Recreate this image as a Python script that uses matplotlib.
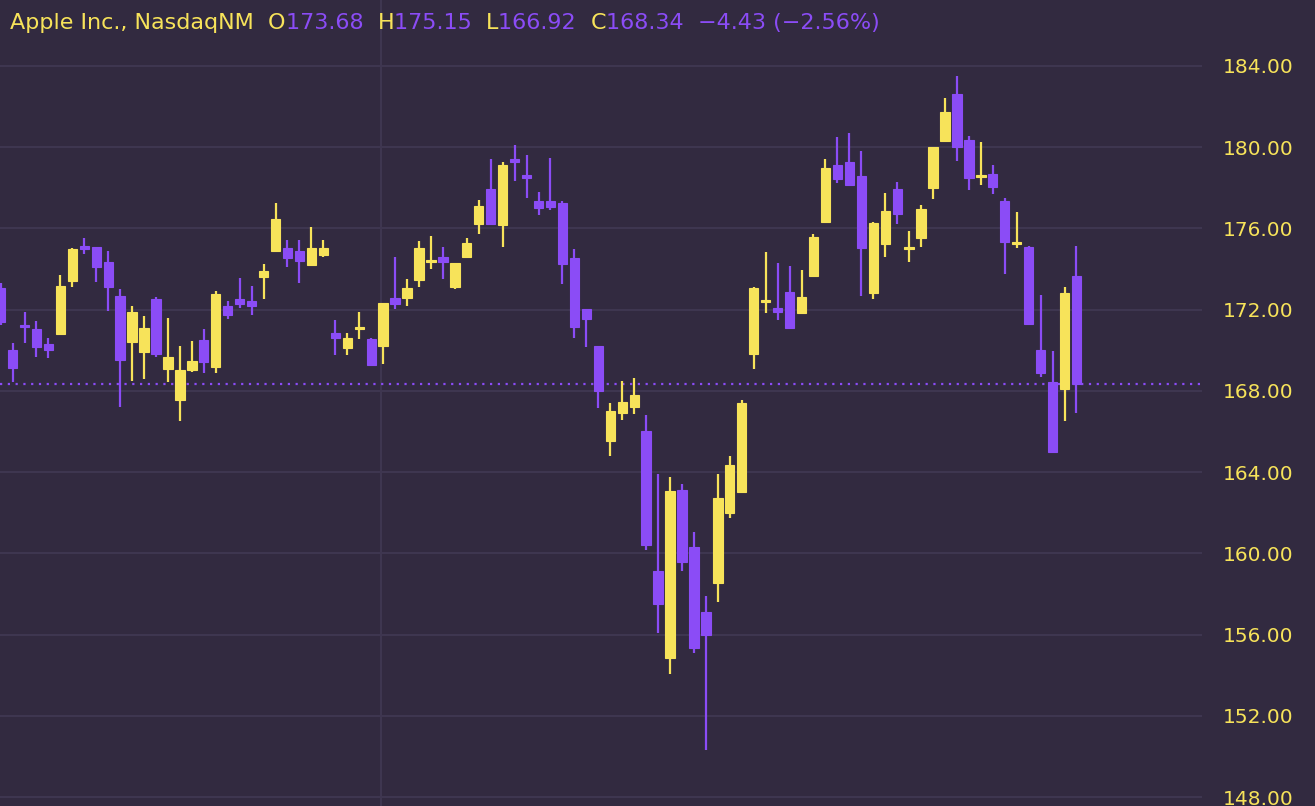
import matplotlib
matplotlib.use("Agg")
import matplotlib.pyplot as plt
import numpy as np

# daily OHLC (oldest first)
opens = [173.07, 170.02, 171.25, 171.05, 170.31, 170.80, 173.41, 175.14, 175.09, 174.35,
         172.67, 170.41, 169.92, 172.53, 169.08, 167.55, 169.03, 170.51, 169.18, 172.18,
         172.53, 172.43, 173.61, 174.89, 175.04, 174.89, 174.20, 174.69, 170.85, 170.11,
         171.05, 170.56, 170.21, 172.58, 172.58, 173.46, 174.35, 174.60, 173.12, 174.60,
         176.22, 177.94, 176.17, 179.42, 178.63, 177.35, 177.35, 177.25, 174.55, 172.03,
         170.21, 165.54, 166.91, 167.21, 166.03, 159.13, 154.85, 163.12, 160.32, 157.11,
         158.54, 161.99, 163.02, 169.82, 172.38, 172.08, 172.87, 171.84, 173.66, 176.32,
         179.13, 179.27, 178.58, 172.82, 175.24, 177.94, 174.99, 175.53, 177.99, 180.31,
         182.62, 180.36, 178.53, 178.68, 177.35, 175.24, 175.09, 170.02, 168.44, 168.10,
         173.68]
highs = [173.32, 170.36, 171.89, 171.44, 170.61, 173.71, 175.04, 175.53, 175.09, 174.89,
         173.02, 172.18, 171.69, 172.63, 171.59, 170.21, 170.46, 171.05, 172.92, 172.43,
         173.56, 173.17, 174.25, 177.25, 175.43, 175.43, 176.07, 175.43, 171.49, 170.85,
         171.89, 170.61, 172.33, 174.60, 173.51, 175.38, 175.63, 175.09, 174.30, 175.53,
         177.40, 179.42, 179.27, 180.11, 179.62, 177.80, 179.47, 177.35, 174.99, 172.03,
         170.21, 167.41, 168.49, 168.64, 166.82, 163.91, 163.76, 163.42, 161.05, 157.90,
         163.91, 164.80, 167.55, 173.12, 174.84, 174.30, 174.15, 173.96, 175.73, 179.42,
         180.50, 180.70, 179.81, 176.32, 177.75, 178.29, 175.88, 177.16, 180.01, 182.42,
         183.51, 180.55, 180.26, 179.13, 177.50, 176.81, 175.14, 172.72, 169.97, 173.12,
         175.15]
lows = [171.25, 168.44, 170.36, 169.67, 169.62, 170.80, 173.12, 174.74, 173.36, 171.94,
        167.21, 168.49, 168.59, 169.67, 168.44, 166.52, 168.93, 168.88, 168.88, 171.54,
        172.08, 171.74, 172.53, 174.89, 174.10, 173.32, 174.20, 174.60, 169.77, 169.77,
        170.56, 169.28, 169.33, 172.03, 172.18, 173.12, 174.00, 173.51, 173.02, 174.55,
        175.73, 176.20, 175.09, 178.34, 177.50, 176.66, 176.91, 173.27, 170.61, 170.16,
        167.16, 164.80, 166.57, 166.86, 160.17, 156.08, 154.06, 159.13, 155.10, 150.32,
        157.61, 161.74, 162.97, 169.08, 171.84, 171.49, 171.10, 171.79, 173.61, 176.27,
        178.24, 178.14, 172.67, 172.53, 174.60, 176.22, 174.35, 175.09, 177.45, 180.31,
        179.32, 177.89, 178.14, 177.70, 173.76, 175.04, 171.30, 168.69, 164.99, 166.52,
        166.92]
closes = [171.39, 169.13, 171.15, 170.16, 170.02, 173.17, 174.99, 174.99, 174.10, 173.12,
          169.52, 171.89, 171.10, 169.82, 169.67, 169.03, 169.47, 169.42, 172.77, 171.74,
          172.28, 172.18, 173.91, 176.47, 174.55, 174.40, 175.04, 175.04, 170.61, 170.61,
          171.15, 169.28, 172.33, 172.28, 173.07, 175.04, 174.45, 174.35, 174.30, 175.28,
          177.11, 176.22, 179.13, 179.27, 178.49, 177.01, 177.06, 174.25, 171.15, 171.54,
          168.00, 167.01, 167.46, 167.80, 160.41, 157.51, 163.07, 159.58, 155.34, 155.98,
          162.73, 164.35, 167.41, 173.07, 172.48, 171.89, 171.10, 172.63, 175.58, 178.98,
          178.44, 178.14, 175.04, 176.27, 176.86, 176.71, 175.09, 176.96, 180.01, 181.74,
          180.01, 178.49, 178.63, 178.04, 175.33, 175.33, 171.30, 168.88, 164.99, 172.82,
          168.34]

last_close = 168.34
y_ticks = [148, 152, 156, 160, 164, 168, 172, 176, 180, 184]

BG = "#322a40"
UP = "#f7e35a"
DOWN = "#8b4cf6"
GRID = "#3e3650"

fig = plt.figure(figsize=(13.15, 8.06), dpi=100, facecolor=BG)
ax = fig.add_axes([0, 0, 1202 / 1315, 1])
ax.set_facecolor(BG)

o = np.array(opens)
h = np.array(highs)
l = np.array(lows)
c = np.array(closes)
x = np.arange(len(o))
colors = [UP if cc >= oo else DOWN for oo, cc in zip(o, c)]

ax.vlines(x, l, h, colors=colors, linewidth=1.6, zorder=3)
body = np.maximum(np.abs(c - o), 0.1)
ax.bar(x, body, bottom=np.minimum(o, c), width=0.78, color=colors,
       edgecolor=colors, linewidth=0.8, zorder=4)

for t in y_ticks:
    ax.axhline(t, color=GRID, linewidth=1.5, zorder=1)
ax.axvline(31.8, color=GRID, linewidth=1.5, zorder=1)
ax.axhline(last_close, color=DOWN, linewidth=1.6, linestyle=(0, (1, 2.5)), zorder=2)

ax.set_xlim(-0.05, 100.5)
ax.set_ylim(147.56, 187.25)
ax.yaxis.tick_right()
ax.set_yticks(y_ticks)
ax.set_yticklabels([f"{t:.2f}" for t in y_ticks])
ax.tick_params(axis="y", length=0, pad=15, labelsize=14.5, labelcolor=UP)
ax.set_xticks([])
for s in ax.spines.values():
    s.set_visible(False)

# header line: yellow labels, purple values
pieces = [("Apple Inc., NasdaqNM  ", UP), ("O", UP), ("173.68  ", DOWN),
          ("H", UP), ("175.15  ", DOWN), ("L", UP), ("166.92  ", DOWN),
          ("C", UP), ("168.34  ", DOWN), ("\u22124.43 (\u22122.56%)", DOWN)]
renderer = fig.canvas.get_renderer()
xpos = 10
for txt, col in pieces:
    t = fig.text(xpos / 1315, 1 - 23 / 806, txt, color=col, fontsize=16,
                 va="center", ha="left")
    bb = t.get_window_extent(renderer=renderer)
    xpos += bb.width

fig.savefig("out.png", dpi=100, facecolor=BG)
